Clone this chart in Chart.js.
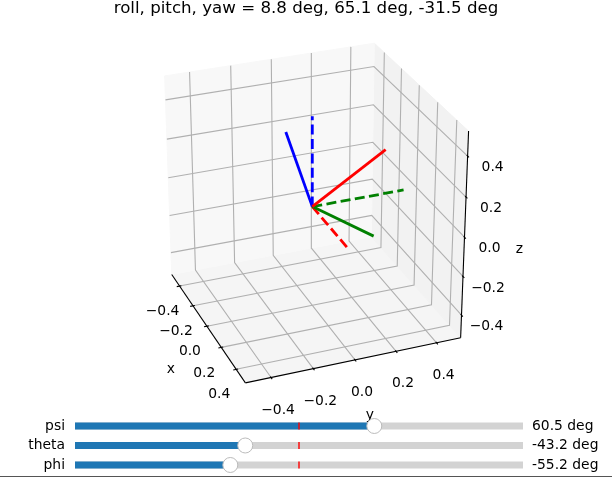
<!DOCTYPE html>
<html>
<head>
<meta charset="utf-8">
<script src="https://cdn.jsdelivr.net/npm/chart.js@4"></script>
<style>
    html, body { margin: 0; padding: 0; background: #fff; overflow: hidden; }
    #wrap { position: relative; width: 612px; height: 478px; }
    #wrap canvas { position: absolute; left: 0; }
    #boxChart { top: 0; }
    #sliderChart { top: 415px; }
    #rule { position: absolute; left: 0; top: 476px; width: 612px; height: 1px; background: #555; }
</style>
</head>
<body>
<div id="wrap">
    <canvas id="boxChart" width="612" height="478"></canvas>
    <canvas id="sliderChart" width="612" height="63"></canvas>
    <div id="rule"></div>
</div>
<script>
const chartTitle = 'roll, pitch, yaw = 8.8 deg, 65.1 deg, -31.5 deg';

// 3D vectors, [x, y, z]
const redSolid = [0.163, 0.288, 0.311];
const greenSolid = [-0.100, 0.350, -0.272];
const blueSolid = [-0.412, 0.029, 0.189];
const redDashed = [0.435, 0, 0];
const greenDashed = [0, 0.454, 0];
const blueDashed = [0, 0, 0.454];

const tickValues = [-0.4, -0.2, 0, 0.2, 0.4];
const tickLabels = ['\u22120.4', '\u22120.2', '0.0', '0.2', '0.4'];

const sliderNames = ['psi', 'theta', 'phi'];
const sliderValues = [60.5, -43.2, -55.2];
const sliderInit = 0;

// camera, same idea as mplot3d
const elev = 27.5 * Math.PI / 180;
const azim = -21.5 * Math.PI / 180;
const dist = 10;
const limit = 0.52;      // axis limits are +-limit
const boxHalf = 0.55;    // half size of the cube in view units
const viewScale = 2075;  // px per projected unit
const centerX = 312.3;
const centerY = 206.6;

const font = '"DejaVu Sans", sans-serif';
const tickFontSize = 13.89;

const rightVec = [-Math.sin(azim), Math.cos(azim), 0];
const upVec = [-Math.sin(elev) * Math.cos(azim), -Math.sin(elev) * Math.sin(azim), Math.cos(elev)];
const eyeVec = [Math.cos(elev) * Math.cos(azim), Math.cos(elev) * Math.sin(azim), Math.sin(elev)];

function dot(a, b) {
    return a[0] * b[0] + a[1] * b[1] + a[2] * b[2];
}

function project(p) {
    const box = p.map(v => v / limit * boxHalf);
    const w = dist - dot(box, eyeVec);
    return { x: dot(box, rightVec) / w, y: dot(box, upVec) / w };
}

function line3d(points, color, width, order, dash) {
    return {
        data: points.map(project),
        showLine: true,
        borderColor: color,
        borderWidth: width,
        borderDash: dash || [],
        pointRadius: 0,
        fill: false,
        order: order
    };
}

function pane(points, color) {
    return {
        data: points.map(project),
        showLine: true,
        borderColor: color,
        borderWidth: 1,
        backgroundColor: color,
        pointRadius: 0,
        fill: 'shape',
        order: 4
    };
}

const L = limit;
const datasets = [];

// back walls and floor
datasets.push(pane([[-L, -L, -L], [-L, L, -L], [-L, L, L], [-L, -L, L], [-L, -L, -L]], '#f8f8f8'));
datasets.push(pane([[-L, L, -L], [L, L, -L], [L, L, L], [-L, L, L], [-L, L, -L]], '#f2f2f2'));
datasets.push(pane([[-L, -L, -L], [L, -L, -L], [L, L, -L], [-L, L, -L], [-L, -L, -L]], '#f5f5f5'));

// grid lines
const gridColor = '#b0b0b0';
tickValues.forEach(t => {
    datasets.push(line3d([[t, -L, -L], [t, L, -L], [t, L, L]], gridColor, 1.1, 3));
    datasets.push(line3d([[L, t, -L], [-L, t, -L], [-L, t, L]], gridColor, 1.1, 3));
    datasets.push(line3d([[L, L, t], [-L, L, t], [-L, -L, t]], gridColor, 1.1, 3));
});

// axis lines and tick marks
datasets.push(line3d([[-L, -L, -L], [L, -L, -L]], '#000', 1.1, 2));
datasets.push(line3d([[L, -L, -L], [L, L, -L]], '#000', 1.1, 2));
datasets.push(line3d([[L, L, -L], [L, L, L]], '#000', 1.1, 2));
const tickOut = 0.014;
const tickIn = 0.009;
tickValues.forEach(t => {
    datasets.push(line3d([[t, -L - tickOut, -L], [t, -L + tickIn, -L]], '#000', 1.1, 2));
    datasets.push(line3d([[L + tickOut, t, -L], [L - tickIn, t, -L]], '#000', 1.1, 2));
    datasets.push(line3d([[L + tickOut, L, t], [L - tickIn, L, t]], '#000', 1.1, 2));
});

// rotated frame (solid) and fixed frame (dashed)
const origin = [0, 0, 0];
const dashPattern = [10, 4.4];
datasets.push(line3d([origin, redSolid], '#ff0000', 2.8, 0));
datasets.push(line3d([origin, greenSolid], '#008000', 2.8, 0));
datasets.push(line3d([origin, blueSolid], '#0000ff', 2.8, 0));
datasets.push(line3d([origin, redDashed], '#ff0000', 2.8, 1, dashPattern));
datasets.push(line3d([origin, greenDashed], '#008000', 2.8, 1, dashPattern));
datasets.push(line3d([origin, blueDashed], '#0000ff', 2.8, 1, dashPattern));

// text of the 3D axes, placed from the projected position
const boxText = {
    id: 'boxText',
    afterDraw(chart) {
        const ctx = chart.ctx;
        const put = (p, dx, dy, text) => {
            const q = project(p);
            ctx.fillText(text, chart.scales.x.getPixelForValue(q.x) + dx, chart.scales.y.getPixelForValue(q.y) + dy);
        };
        ctx.save();
        ctx.fillStyle = '#000';
        ctx.textAlign = 'center';
        ctx.textBaseline = 'middle';
        ctx.font = `${tickFontSize}px ${font}`;
        tickValues.forEach((t, i) => {
            put([t, -L, -L], -17, 25.5, tickLabels[i]);
            put([L, t, -L], 7, 32.5, tickLabels[i]);
            put([L, L, t], 25, 11.5, tickLabels[i]);
        });
        put([0, -L, -L], -36, 43, 'x');
        put([L, 0, -L], 15, 55, 'y');
        put([L, L, 0], 55, 12, 'z');
        ctx.font = `16.67px ${font}`;
        ctx.textBaseline = 'alphabetic';
        ctx.fillText(chartTitle, 306, 13);
        ctx.restore();
    }
};

new Chart(document.getElementById('boxChart'), {
    type: 'scatter',
    data: { datasets: datasets },
    plugins: [boxText],
    options: {
        responsive: false,
        animation: false,
        layout: { padding: 0, autoPadding: false },
        plugins: { legend: { display: false }, tooltip: { enabled: false } },
        scales: {
            x: { display: false, min: -centerX / viewScale, max: (612 - centerX) / viewScale },
            y: { display: false, min: -(478 - centerY) / viewScale, max: centerY / viewScale }
        }
    }
});

// sliders: row 2 is psi, row 0 is phi
const sliderSets = [];
sliderNames.forEach((name, i) => {
    const row = 2 - i;
    sliderSets.push({
        data: [{ x: sliderValues[i], y: row }],
        pointRadius: 7.5,
        pointBackgroundColor: '#fff',
        pointBorderColor: '#bbbbbb',
        pointBorderWidth: 1,
        order: 0
    });
    sliderSets.push({
        data: [{ x: sliderInit, y: row - 0.18 }, { x: sliderInit, y: row + 0.18 }],
        showLine: true, borderColor: '#ff0000', borderWidth: 1.4, pointRadius: 0, order: 1
    });
    sliderSets.push({
        data: [{ x: -180, y: row }, { x: sliderValues[i], y: row }],
        showLine: true, borderColor: '#1f77b4', borderWidth: 7, pointRadius: 0, order: 2
    });
    sliderSets.push({
        data: [{ x: -180, y: row }, { x: 180, y: row }],
        showLine: true, borderColor: '#d3d3d3', borderWidth: 7, pointRadius: 0, order: 3
    });
});

// names on the left of the tracks, values on the right
const sliderText = {
    id: 'sliderText',
    afterDraw(chart) {
        const ctx = chart.ctx;
        const area = chart.chartArea;
        ctx.save();
        ctx.fillStyle = '#000';
        ctx.textBaseline = 'middle';
        ctx.font = `${tickFontSize}px ${font}`;
        sliderNames.forEach((name, i) => {
            const py = chart.scales.y.getPixelForValue(2 - i);
            ctx.textAlign = 'right';
            ctx.fillText(name, area.left - 10, py);
            ctx.textAlign = 'left';
            ctx.fillText(sliderValues[i].toFixed(1) + ' deg', area.right + 9, py);
        });
        ctx.restore();
    }
};

new Chart(document.getElementById('sliderChart'), {
    type: 'scatter',
    data: { datasets: sliderSets },
    plugins: [sliderText],
    options: {
        responsive: false,
        animation: false,
        layout: { padding: { left: 75, right: 89, top: 0, bottom: 0 }, autoPadding: false },
        plugins: { legend: { display: false }, tooltip: { enabled: false } },
        scales: {
            x: { display: false, min: -180, max: 180 },
            y: { display: false, min: -0.667, max: 2.564 }
        }
    }
});
</script>
</body>
</html>
